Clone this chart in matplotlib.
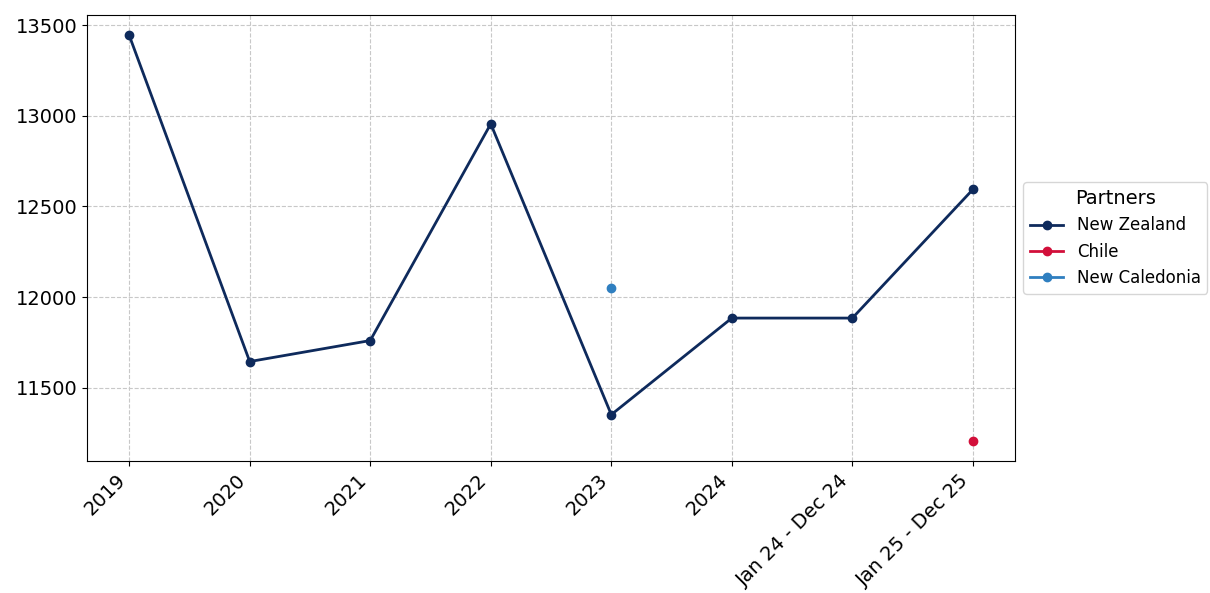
import matplotlib
matplotlib.use("Agg")
import matplotlib.pyplot as plt

periods = ["2019", "2020", "2021", "2022", "2023", "2024",
           "Jan 24 - Dec 24", "Jan 25 - Dec 25"]
new_zealand = [13445, 11644, 11760, 12956, 11351, 11884, 11884, 12594]
chile = [None, None, None, None, None, None, None, 11207]
new_caledonia = [None, None, None, None, 12050, None, None, None]

series = [
    ("New Zealand", new_zealand, "#0e2a5c"),
    ("Chile", chile, "#d20f3a"),
    ("New Caledonia", new_caledonia, "#2f7fc0"),
]

fig = plt.figure(figsize=(12.1, 5.93), dpi=100)
ax = fig.add_axes([0.0719, 0.2226, 0.767, 0.7521])

x = list(range(len(periods)))
for name, vals, color in series:
    xs = [i for i, v in zip(x, vals) if v is not None]
    ys = [v for v in vals if v is not None]
    ax.plot(xs, ys, marker="o", lw=2, ms=6, color=color, label=name)

ax.set_xticks(x)
ax.set_xticklabels(periods, rotation=45, ha="right", fontsize=14)
ax.tick_params(axis="y", labelsize=14)
ax.set_yticks([11500, 12000, 12500, 13000, 13500])
ax.grid(True, ls="--", color="#c8c8c8", lw=0.8)

leg = ax.legend(title="Partners", loc="center left", bbox_to_anchor=(1.0, 0.5),
                fontsize=12, title_fontsize=14)
leg.get_frame().set_edgecolor("#cccccc")

fig.savefig("out.png", dpi=100)
